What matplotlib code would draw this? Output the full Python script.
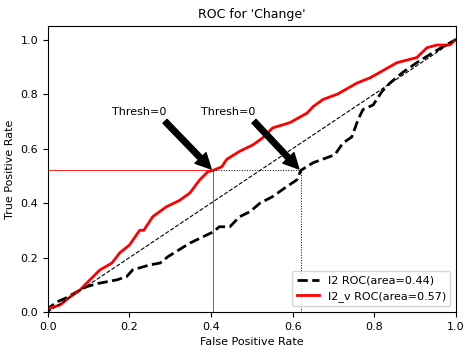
import matplotlib
matplotlib.use("Agg")
import matplotlib.pyplot as plt

# ROC curves
fpr_v = [0.0, 0.005, 0.03, 0.054, 0.078, 0.103, 0.127, 0.157, 0.176, 0.2, 0.225, 0.235,
         0.257, 0.29, 0.323, 0.348, 0.372, 0.392, 0.405, 0.426, 0.438, 0.47, 0.503, 0.527,
         0.551, 0.593, 0.635, 0.65, 0.674, 0.71, 0.757, 0.79, 0.814, 0.855, 0.904, 0.929,
         0.953, 0.985, 1.0]
tpr_v = [0.0, 0.015, 0.026, 0.055, 0.08, 0.118, 0.154, 0.18, 0.217, 0.246, 0.30, 0.30,
         0.35, 0.386, 0.41, 0.437, 0.485, 0.515, 0.52, 0.533, 0.56, 0.59, 0.614, 0.64,
         0.676, 0.695, 0.73, 0.754, 0.78, 0.80, 0.84, 0.86, 0.88, 0.915, 0.934, 0.97,
         0.98, 0.98, 1.0]

fpr = [0.0, 0.005, 0.022, 0.042, 0.078, 0.095, 0.123, 0.169, 0.193, 0.208, 0.25, 0.275,
       0.294, 0.348, 0.405, 0.42, 0.446, 0.47, 0.495, 0.52, 0.55, 0.585, 0.61, 0.62,
       0.65, 0.703, 0.723, 0.745, 0.76, 0.772, 0.797, 0.819, 0.838, 0.87, 0.904, 0.936,
       0.968, 1.0]
tpr = [0.0, 0.018, 0.037, 0.05, 0.08, 0.093, 0.105, 0.118, 0.13, 0.155, 0.173, 0.18,
       0.203, 0.253, 0.294, 0.313, 0.313, 0.35, 0.368, 0.40, 0.423, 0.46, 0.485, 0.52,
       0.548, 0.577, 0.62, 0.643, 0.706, 0.743, 0.76, 0.81, 0.84, 0.88, 0.915, 0.945,
       0.974, 1.0]

thresh_v = (0.405, 0.52)
thresh = (0.62, 0.52)

fig = plt.figure(figsize=(4.74, 3.55), dpi=100)
ax = fig.add_axes([0.101, 0.121, 0.861, 0.806])

ax.plot(fpr, tpr, 'k--', lw=2, label="I2 ROC(area=0.44)")
ax.plot(fpr_v, tpr_v, 'r-', lw=2, label="I2_v ROC(area=0.57)")
ax.plot([0, 1], [0, 1], 'k--', lw=0.8)

# threshold guide lines
ax.plot([thresh_v[0], thresh_v[0]], [0, thresh_v[1]], 'r-', lw=0.6)
ax.plot([0, thresh_v[0]], [thresh_v[1], thresh_v[1]], 'r-', lw=0.6)
ax.plot([thresh[0], thresh[0]], [0, thresh[1]], 'k:', lw=0.7)
ax.plot([thresh_v[0], thresh[0]], [thresh[1], thresh[1]], 'k:', lw=0.7)

ax.text(0.157, 0.735, "Thresh=0", fontsize=8, va='center')
ax.text(0.375, 0.735, "Thresh=0", fontsize=8, va='center')
ax.annotate('', xy=(0.40, 0.525), xytext=(0.287, 0.70),
            arrowprops=dict(facecolor='black', width=4, headwidth=11, headlength=11))
ax.annotate('', xy=(0.615, 0.525), xytext=(0.505, 0.70),
            arrowprops=dict(facecolor='black', width=4, headwidth=11, headlength=11))

ax.set_xlim(0, 1)
ax.set_ylim(0, 1.05)
ax.set_xlabel("False Positive Rate", fontsize=8)
ax.set_ylabel("True Positive Rate", fontsize=8)
ax.set_title("ROC for 'Change'", fontsize=9)
ax.tick_params(labelsize=8)
ax.legend(loc='lower right', fontsize=8)

fig.savefig("out.png")
